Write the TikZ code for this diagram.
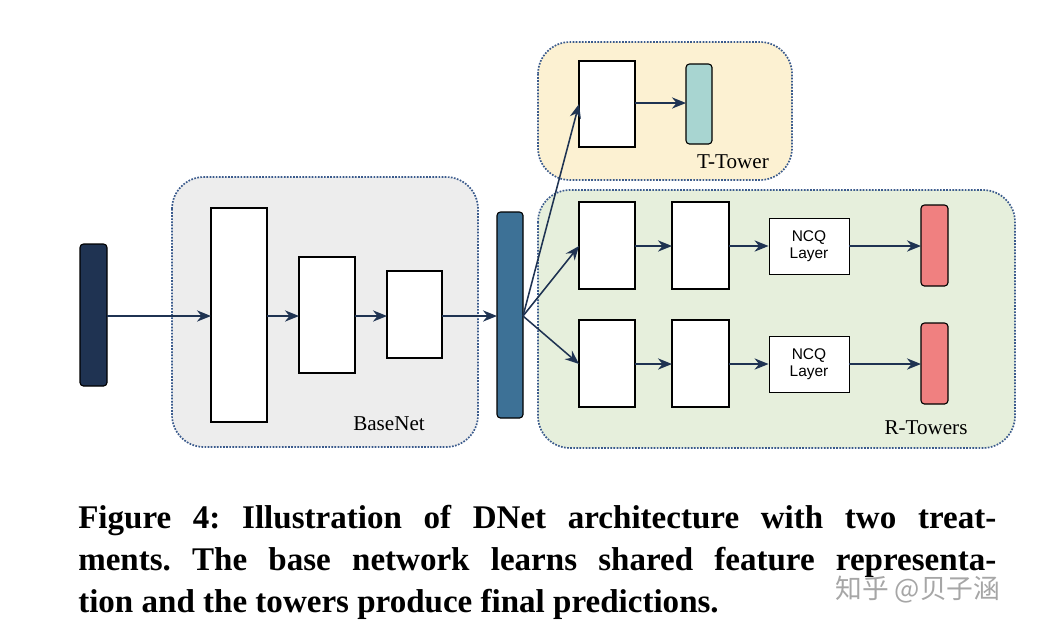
\documentclass[tikz,border=0pt]{standalone}
\usepackage{fontspec}
\setmainfont{Liberation Serif}
\newfontfamily\sansf{Liberation Sans}
\newfontfamily\cjk{Noto Sans CJK SC}
\usetikzlibrary{arrows.meta}
\definecolor{navy}{HTML}{1F3352}
\definecolor{steel}{HTML}{3D7196}
\definecolor{teal}{HTML}{A8D5D1}
\definecolor{redb}{HTML}{F08080}
\definecolor{yel}{HTML}{FCF1D2}
\definecolor{grn}{HTML}{E6EFDC}
\definecolor{gry}{HTML}{EDEDED}
\definecolor{dotb}{HTML}{3A5A8C}
\begin{document}
\begin{tikzpicture}[x=0.025cm,y=-0.025cm,
  region/.style={draw=dotb,densely dotted,line width=1.2pt,rounded corners=0.8cm},
  box/.style={draw=black,fill=white,line width=0.8pt},
  bar/.style={draw=black,line width=0.8pt,rounded corners=2.5pt},
  ncq/.style={draw=black,fill=white,line width=0.6pt,align=center,font=\sansf\fontsize{11}{12}\selectfont},
  arr/.style={draw=navy,line width=1.1pt,-{Stealth[length=10pt,width=8pt]}},
  lab/.style={font=\fontsize{15}{16}\selectfont}]
\useasboundingbox (0,0) rectangle (1044,634);
% regions
\draw[region,fill=gry] (172,177) rectangle (478,447);
\draw[region,fill=yel] (538,42) rectangle (792,180);
\draw[region,fill=grn] (538,190) rectangle (1015,448);
\node[lab] (lb) at (389,424) {BaseNet};
\node[lab] (lt) at (733,162) {T-Tower};
\node[lab] (lr) at (926,428) {R-Towers};
% input
\draw[bar,fill=navy] (80,244) rectangle (107,386);
\coordinate (in) at (107,316);
\draw[box] (211,208) rectangle (267,422);
\coordinate (b1w) at (211,316); \coordinate (b1e) at (267,316);
\draw[box] (299,257) rectangle (355,373);
\coordinate (b2w) at (299,316); \coordinate (b2e) at (355,316);
\draw[box] (387,271) rectangle (442,358);
\coordinate (b3w) at (387,316); \coordinate (b3e) at (442,316);
\draw[bar,fill=steel] (497,212) rectangle (523,418);
\coordinate (mw) at (497,316); \coordinate (me) at (523,316);
\draw[arr] (in) -- (b1w);
\draw[arr] (b1e) -- (b2w);
\draw[arr] (b2e) -- (b3w);
\draw[arr] (b3e) -- (mw);
% T tower
\draw[box] (579,61) rectangle (635,147);
\coordinate (tw) at (579,104); \coordinate (te) at (635,103);
\draw[bar,fill=teal] (686,64) rectangle (712,144);
\coordinate (tbw) at (686,103);
\draw[arr] (me) -- (tw);
\draw[arr] (te) -- (tbw);
% R rows
\foreach \y/\n in {202/a,320/b}{
  \draw[box] (579,\y) rectangle (635,\y+87);
  \draw[box] (672,\y) rectangle (729,\y+87);
  \node[ncq,minimum width=80*0.025cm,minimum height=56*0.025cm] (ncq\n) at (809,\y+44) {NCQ\\Layer};
  \draw[bar,fill=redb] (921,\y+3) rectangle (948,\y+84);
  \coordinate (p\n) at (579,\y+44);
  \coordinate (q\n) at (635,\y+44);
  \coordinate (r\n) at (672,\y+44);
  \coordinate (s\n) at (729,\y+44);
  \coordinate (t\n) at (921,\y+44);
  \draw[arr] (me) -- (p\n);
  \draw[arr] (q\n) -- (r\n);
  \draw[arr] (s\n) -- (ncq\n.west);
  \draw[arr] (ncq\n.east) -- (t\n);
}
% caption
\node[anchor=north west,text width=918*0.025cm,align=justify,inner sep=0,
  font=\bfseries\fontsize{23.5}{30}\selectfont\frenchspacing] (cap) at (78,505)
 {Figure 4: Illustration of DNet architecture with two treat-\linebreak ments. The base network learns shared feature representa-\linebreak tion and the towers produce final predictions.};
\node[text=gray!70,font=\cjk\fontsize{19}{20}\selectfont] (wm) at (918,590) {知乎 @贝子涵};
\end{tikzpicture}
\end{document}
